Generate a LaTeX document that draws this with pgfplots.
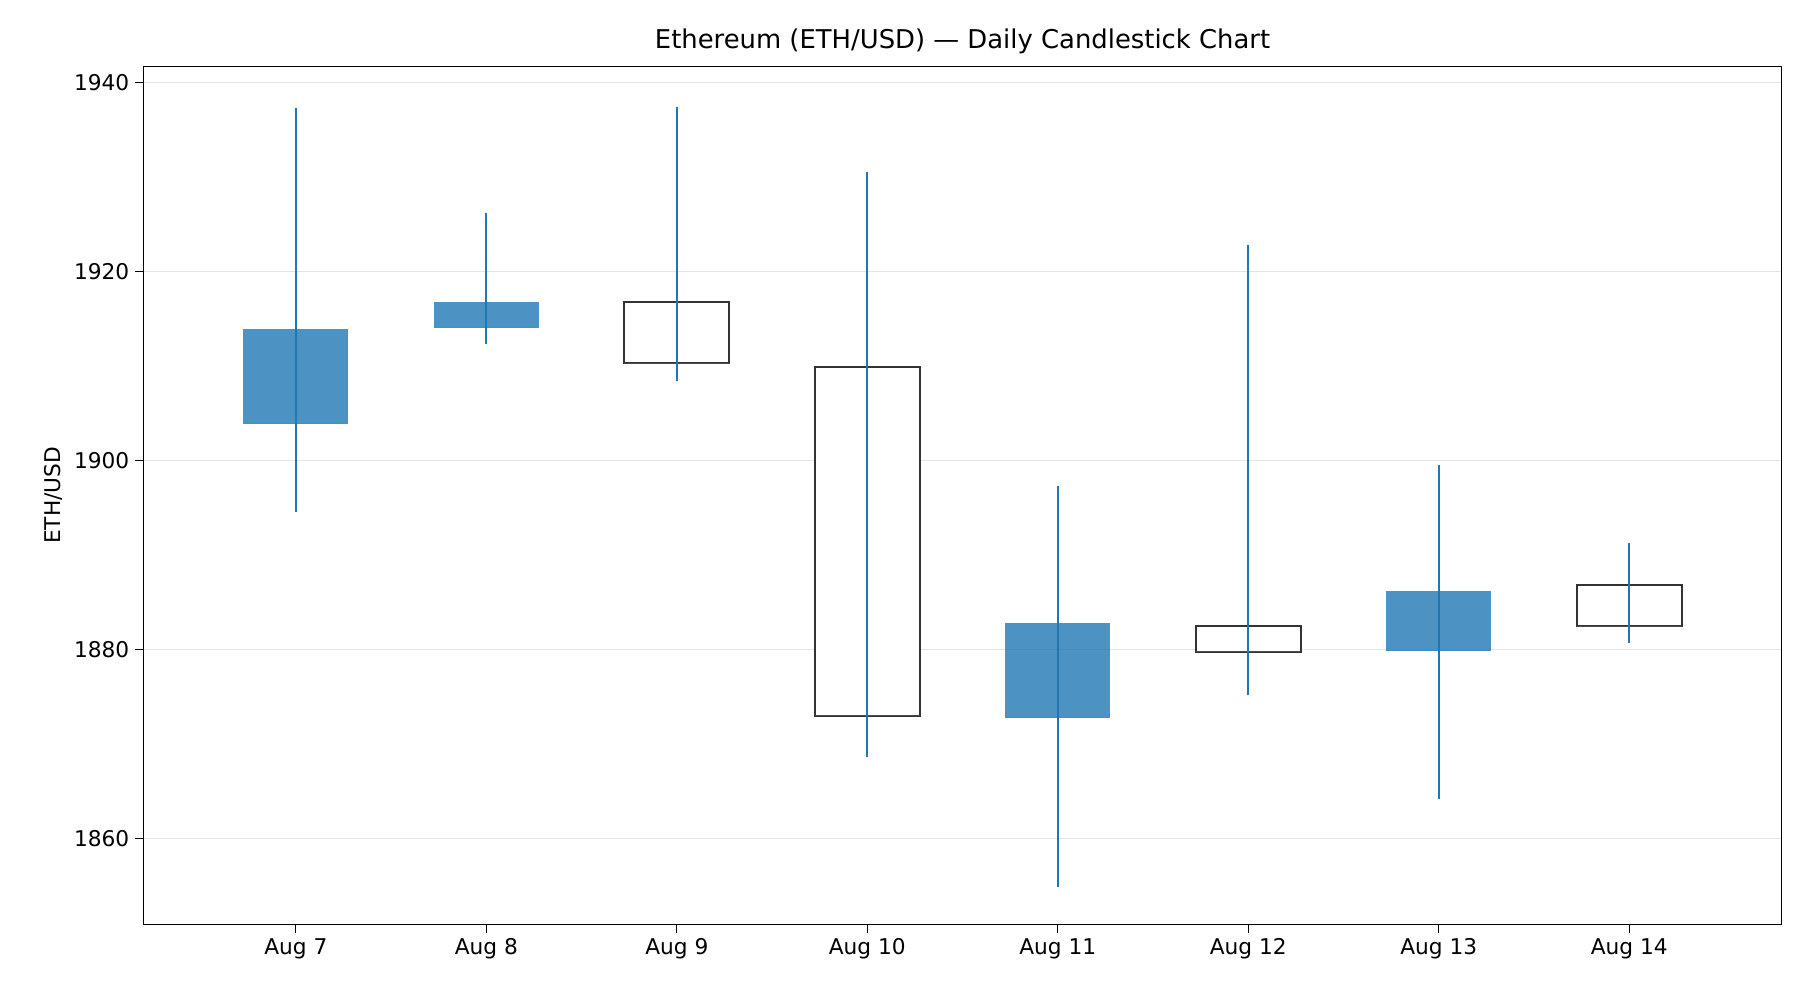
\documentclass[border=0pt]{standalone}
\usepackage{pgfplots}
\pgfplotsset{compat=1.18}
\usepgfplotslibrary{statistics}
\usepackage{fontspec}
\setmainfont{DejaVu Sans}
\definecolor{cblue}{HTML}{1F77B4}
\definecolor{edge}{HTML}{333333}
\newcommand{\body}[4]{% pos, low, high, filled(1)/hollow(0)
\ifnum#4=1
\addplot[draw=none, fill=cblue, fill opacity=0.8, boxplot/every box/.style={draw=none, fill=cblue, fill opacity=0.8}, boxplot/every median/.style={draw=none}, boxplot/every whisker/.style={draw=none}, boxplot prepared={draw position=#1, lower whisker=#2, lower quartile=#2, median=#2, upper quartile=#3, upper whisker=#3, box extend=0.55, whisker extend=0}] coordinates {};
\else
\addplot[draw=edge, line width=1.2pt, fill=white, boxplot/every median/.style={draw=none}, boxplot prepared={draw position=#1, lower whisker=#2, lower quartile=#2, median=#2, upper quartile=#3, upper whisker=#3, box extend=0.55, whisker extend=0}] coordinates {};
\fi}
\begin{document}
\begin{tikzpicture}
\begin{axis}[name=ax, scale only axis, width=982pt, height=514pt,
 xmin=-0.8, xmax=7.8, ymin=1850.95, ymax=1941.7,
 xtick={0,...,7}, xticklabels={Aug 7,Aug 8,Aug 9,Aug 10,Aug 11,Aug 12,Aug 13,Aug 14},
 ytick={1860,1880,1900,1920,1940},
 xtick pos=bottom, ytick pos=left,
 ymajorgrids, major grid style={gray!20, line width=0.6pt},
 tick align=outside, major tick length=5pt, tick style={black, line width=0.6pt},
 axis line style={line width=0.6pt},
 /pgf/number format/assume math mode=true,
 /pgf/number format/1000 sep={},
 ticklabel style={font=\fontsize{13}{15}\selectfont},
 ylabel={ETH/USD}, ylabel style={font=\fontsize{13}{15}\selectfont},
 title={Ethereum (ETH/USD) — Daily Candlestick Chart},
 title style={font=\fontsize{15.5}{18}\selectfont, yshift=-2pt},
 boxplot/draw direction=y]
\body{0}{1903.9}{1913.9}{1}
\body{1}{1914.1}{1916.8}{1}
\body{2}{1910.3}{1916.8}{0}
\body{3}{1873.0}{1909.9}{0}
\body{4}{1872.8}{1882.8}{1}
\body{5}{1879.8}{1882.5}{0}
\body{6}{1879.9}{1886.2}{1}
\body{7}{1882.5}{1886.9}{0}
\addplot[cblue, line width=1.2pt, unbounded coords=jump] table {
x y
0 1894.6
0 1937.3
0 nan
1 1912.4
1 1926.2
1 nan
2 1908.4
2 1937.4
2 nan
3 1868.6
3 1930.6
3 nan
4 1854.9
4 1897.3
4 nan
5 1875.2
5 1922.8
5 nan
6 1864.2
6 1899.5
6 nan
7 1880.7
7 1891.3
};
\end{axis}
\pgfresetboundingbox
\path ([xshift=-86pt,yshift=-40pt]ax.south west) rectangle ([xshift=11pt,yshift=40pt]ax.north east);
\end{tikzpicture}
\end{document}
